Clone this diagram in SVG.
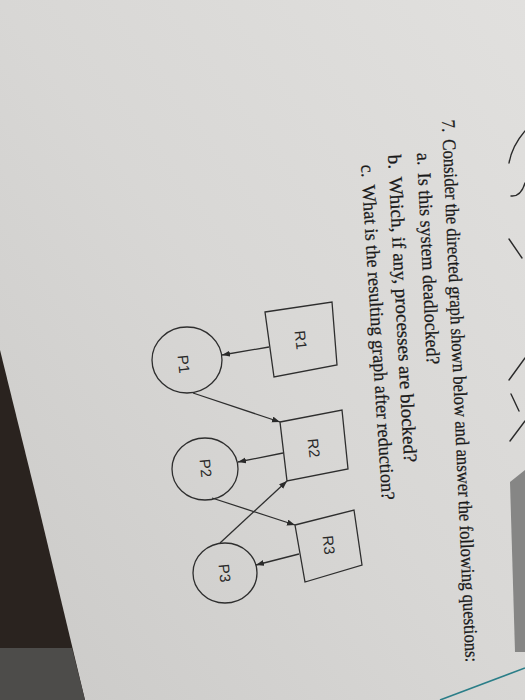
<svg xmlns="http://www.w3.org/2000/svg" width="525" height="700" viewBox="0 0 525 700">
<defs>
<linearGradient id="paper" x1="1" y1="0" x2="0" y2="1">
<stop offset="0" stop-color="#e1e0de"/>
<stop offset="0.5" stop-color="#d8d7d5"/>
<stop offset="1" stop-color="#cbcac8"/>
</linearGradient>
<marker id="ah" markerUnits="userSpaceOnUse" markerWidth="9" markerHeight="7" refX="8" refY="3" orient="auto">
<path d="M0,0 L8,3 L0,6 z" fill="#2a2a2a"/>
</marker>
<style>
.q{font-family:"Liberation Serif","Times New Roman",serif;font-size:19px;fill:#1a1a1a;stroke:#1a1a1a;stroke-width:0.25}
.lbl{font-family:"Liberation Sans",Arial,sans-serif;font-size:15px;fill:#2a2a2a;text-anchor:middle;dominant-baseline:central}
.shape{fill:none;stroke:#2e2e2e;stroke-width:1.3}
.edge{fill:none;stroke:#2e2e2e;stroke-width:1.3;marker-end:url(#ah)}
.mark{fill:none;stroke:#2a2a2a;stroke-width:1.4;stroke-linecap:round}
</style>
</defs>
<rect x="0" y="0" width="525" height="700" fill="url(#paper)"/>
<polygon points="0,350 37,500 85,700 0,700" fill="#2a231f"/>
<polygon points="0,648 72,648 85,700 0,700" fill="#4d4c4a"/>
<polygon points="510,482 525,470 525,652 515,652" fill="#868685"/>
<line x1="440" y1="700" x2="525" y2="668" stroke="#2b7e88" stroke-width="1.6"/>
<g id="marks">
<path class="mark" d="M525,131 Q512,146 509,163"/>
<path class="mark" d="M511,196 Q521,197 525,183"/>
<path class="mark" d="M509,239 L522,258"/>
<path class="mark" d="M509,380 L525,358"/>
<path class="mark" d="M511,394 L519,411" stroke-width="3"/>
<path class="mark" d="M510,441 L525,421"/>
</g>
<g id="question">
<text class="q" transform="translate(442,120) rotate(87.5)" textLength="543" lengthAdjust="spacingAndGlyphs">7.<tspan dx="8">Consider the directed graph shown below and answer the following questions:</tspan></text>
<text class="q" transform="translate(417,153) rotate(87.3)" textLength="212" lengthAdjust="spacingAndGlyphs">a.<tspan dx="8">Is this system deadlocked?</tspan></text>
<text class="q" transform="translate(388,155) rotate(87)" textLength="308" lengthAdjust="spacingAndGlyphs">b.<tspan dx="8">Which, if any, processes are blocked?</tspan></text>
<text class="q" transform="translate(361,165) rotate(86.4)" textLength="336" lengthAdjust="spacingAndGlyphs">c.<tspan dx="8">What is the resulting graph after reduction?</tspan></text>
</g>
<g id="connectors">
<line class="edge" x1="269" y1="347" x2="222" y2="355"/>
<line class="edge" x1="193" y1="393" x2="280" y2="422"/>
<line class="edge" x1="283" y1="453" x2="238" y2="462"/>
<line class="edge" x1="212" y1="498" x2="295" y2="525"/>
<line class="edge" x1="220" y1="543" x2="287" y2="481"/>
<line class="edge" x1="299" y1="554" x2="256" y2="565"/>
</g>
<g id="R1">
<polygon class="shape" points="265,312 332,302 337,365 274,377"/>
<text class="lbl" transform="translate(301,340) rotate(84)">R1</text>
</g>
<g id="R2">
<polygon class="shape" points="280,422 342,410 348,469 287,481"/>
<text class="lbl" transform="translate(314,448) rotate(84)">R2</text>
</g>
<g id="R3">
<polygon class="shape" points="295,525 354,510 362,565 305,582"/>
<text class="lbl" transform="translate(329,545) rotate(84)">R3</text>
</g>
<g id="P1">
<ellipse class="shape" cx="187" cy="360" rx="35" ry="33"/>
<text class="lbl" transform="translate(184,364) rotate(84)">P1</text>
</g>
<g id="P2">
<ellipse class="shape" cx="205" cy="469" rx="33" ry="31"/>
<text class="lbl" transform="translate(206,468) rotate(84)">P2</text>
</g>
<g id="P3">
<ellipse class="shape" cx="225" cy="573" rx="32" ry="30"/>
<text class="lbl" transform="translate(225,573) rotate(84)">P3</text>
</g>
</svg>
